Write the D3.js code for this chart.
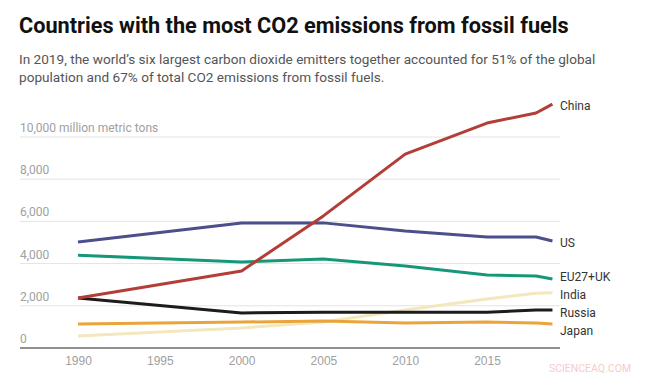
<!DOCTYPE html>
<html lang="en">
<head>
<meta charset="utf-8">
<title>CO2 emitters</title>
<script src="https://cdn.jsdelivr.net/npm/d3@7"></script>
<style>
  body { margin: 0; background: #fff; font-family: Roboto, "Open Sans", sans-serif; }
  .title { font-size: 21.7px; font-weight: 700; fill: #111; }
  .sub { font-size: 13.6px; fill: #555; }
  .tick-label { font-size: 12px; fill: #a0a0a0; }
  .series-label { font-size: 12px; fill: #333; }
</style>
</head>
<body>
<script>
  // data (million metric tons)
  const years = [1990, 2000, 2005, 2010, 2015, 2018, 2019];
  const china  = [2370, 3650, 6260, 9190, 10660, 11140, 11560];
  const us     = [5020, 5920, 5930, 5540, 5260, 5260, 5070];
  const eu     = [4400, 4080, 4220, 3890, 3460, 3410, 3270];
  const india  = [570, 950, 1230, 1800, 2320, 2600, 2620];
  const russia = [2370, 1660, 1700, 1700, 1700, 1800, 1800];
  const japan  = [1140, 1230, 1280, 1180, 1230, 1180, 1140];

  const seriesNames = ["India", "Japan", "Russia", "EU27+UK", "US", "China"];
  const seriesValues = [india, japan, russia, eu, us, china];
  const seriesColors = ["#f3e7bd", "#e9a53c", "#1c1c1c", "#17977a", "#4b4f8b", "#b33d37"];

  const yTicks = [0, 2000, 4000, 6000, 8000, 10000];
  const xTicks = [1990, 1995, 2000, 2005, 2010, 2015];

  const w = 647, h = 378;
  const svg = d3.select("body").append("svg").attr("width", w).attr("height", h);

  svg.append("text").attr("class", "title").attr("x", 19).attr("y", 33)
     .text("Countries with the most CO2 emissions from fossil fuels");
  svg.append("text").attr("class", "sub").attr("x", 19).attr("y", 64)
     .text("In 2019, the world\u2019s six largest carbon dioxide emitters together accounted for 51% of the global");
  svg.append("text").attr("class", "sub").attr("x", 19).attr("y", 82)
     .text("population and 67% of total CO2 emissions from fossil fuels.");

  const left = 20, right = 560;
  const x = d3.scaleLinear().domain([1990, 2015]).range([78, 487]);
  const y = d3.scaleLinear().domain([0, 10000]).range([348, 137]);

  // gridlines + tick labels
  const grid = svg.append("g");
  grid.selectAll("line").data(yTicks.filter(d => d > 0)).join("line")
    .attr("x1", left).attr("x2", right)
    .attr("y1", d => y(d)).attr("y2", d => y(d))
    .attr("stroke", "#e3e3e3").attr("stroke-width", 1);
  grid.selectAll("text").data(yTicks).join("text")
    .attr("class", "tick-label")
    .attr("x", left).attr("y", d => y(d) - 5)
    .text(d => d === 10000 ? "10,000 million metric tons" : d3.format(",")(d));

  // x axis
  const xAxis = svg.append("g").attr("transform", `translate(0,${y(0)})`)
    .call(d3.axisBottom(x).tickValues(xTicks).tickFormat(d3.format("d")).tickSize(0).tickPadding(8));
  xAxis.select(".domain").remove();
  xAxis.selectAll("text").attr("class", "tick-label").attr("font-family", null).attr("font-size", null);
  svg.append("line").attr("x1", left).attr("x2", right)
    .attr("y1", y(0)).attr("y2", y(0)).attr("stroke", "#222").attr("stroke-width", 1.2);

  // lines
  const line = d3.line().x((d, i) => x(years[i])).y(d => y(d));
  svg.append("g").selectAll("path").data(seriesValues).join("path")
    .attr("d", line)
    .attr("fill", "none")
    .attr("stroke", (d, i) => seriesColors[i])
    .attr("stroke-width", 3)
    .attr("stroke-linejoin", "round");

  // end labels with simple de-overlap
  const gap = 18;
  let labels = seriesNames.map((n, i) => ({ name: n, y: y(seriesValues[i][seriesValues[i].length - 1]) + 2 }))
    .sort((a, b) => a.y - b.y);
  let groups = labels.map(l => ({ items: [l], y0: l.y }));
  let merged = true;
  while (merged) {
    merged = false;
    for (let i = 1; i < groups.length; i++) {
      const a = groups[i - 1], b = groups[i];
      if (a.y0 + a.items.length * gap > b.y0) {
        const items = a.items.concat(b.items);
        const mean = d3.mean(items, (it, k) => it.y - k * gap);
        groups.splice(i - 1, 2, { items, y0: mean });
        merged = true;
        break;
      }
    }
  }
  groups.forEach(g => g.items.forEach((it, k) => { it.ly = g.y0 + k * gap; }));

  svg.append("g").selectAll("text").data(labels).join("text")
    .attr("class", "series-label")
    .attr("x", 560).attr("y", d => d.ly).attr("dy", "0.35em")
    .text(d => d.name);

  svg.append("text").attr("x", 590).attr("y", 372).attr("text-anchor", "middle")
    .attr("font-size", 10.5).attr("fill", "#f5cccc").text("SCIENCEAQ.COM");
</script>
</body>
</html>
